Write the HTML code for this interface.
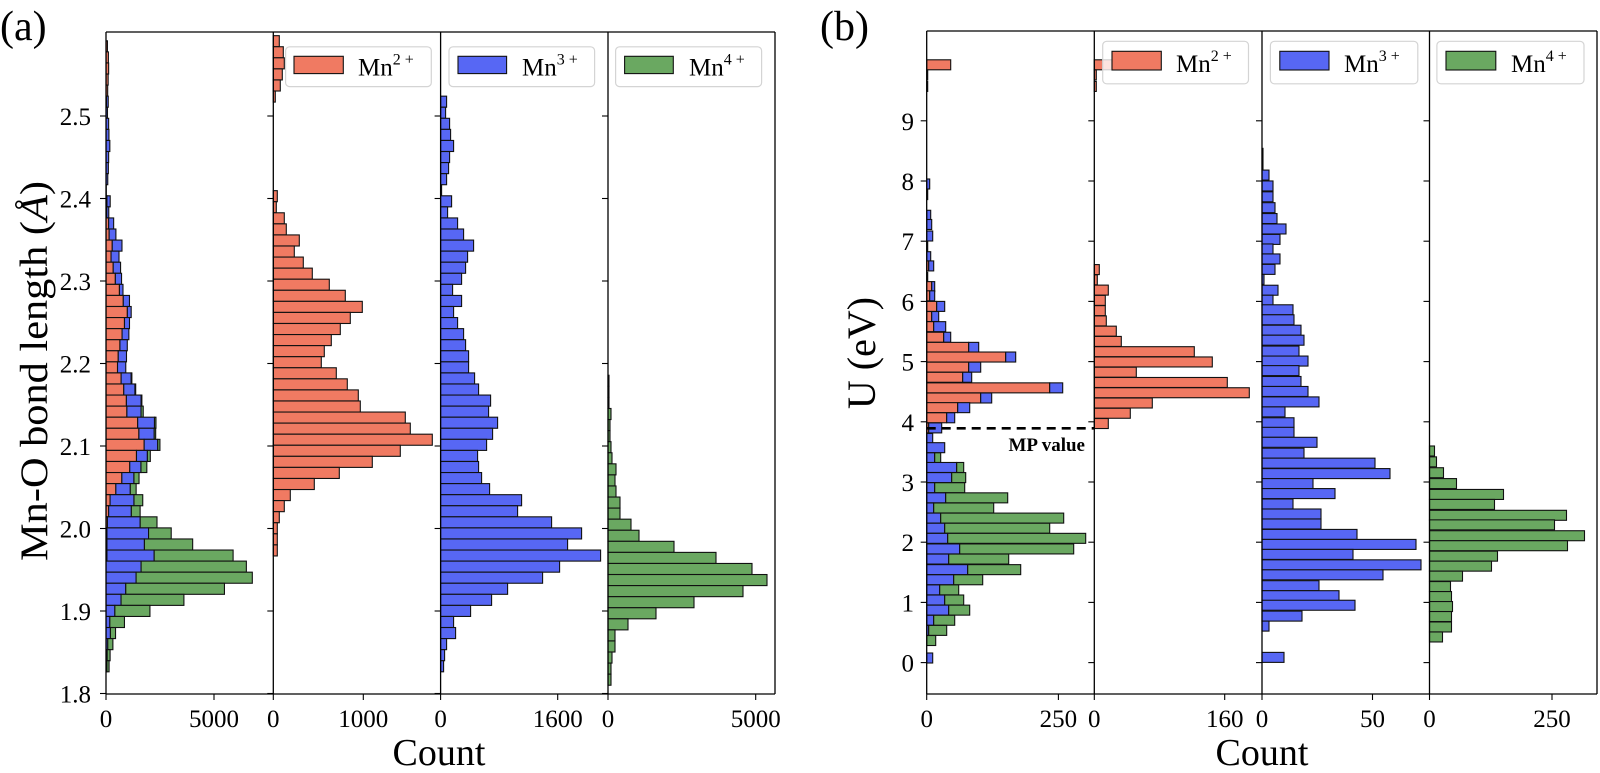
<!DOCTYPE html>
<html><head><meta charset="utf-8"><style>
html,body{margin:0;padding:0;background:#fff;}
svg{display:block;font-family:"Liberation Serif","DejaVu Serif",serif;}
</style></head><body>
<svg id="s" width="1600" height="773" viewBox="0 0 1600 773" xmlns="http://www.w3.org/2000/svg">
<defs>
<clipPath id="ca"><rect x="106" y="32" width="669" height="662"/></clipPath>
<clipPath id="cb"><rect x="926.7" y="31" width="670.3" height="663"/></clipPath>
</defs>
<rect width="1600" height="773" fill="#fff"/>
<g id="barsA" clip-path="url(#ca)"></g>
<g id="barsB" clip-path="url(#cb)"></g>
<g id="axes" fill="none" stroke="#000" stroke-width="1.3"></g>
<g id="legends"></g>
<g font-size="25" fill="#000">
<text x="0" y="40" font-size="42">(a)</text>
<text x="820" y="40" font-size="42">(b)</text>
<text x="439" y="765" font-size="38" text-anchor="middle">Count</text>
<text x="1262" y="765" font-size="38" text-anchor="middle">Count</text>
<text transform="translate(47,371) rotate(-90)" font-size="39" text-anchor="middle" textLength="380" lengthAdjust="spacingAndGlyphs">Mn-O bond length (<tspan font-style="italic">Å</tspan>)</text>
<text transform="translate(875,353) rotate(-90)" font-size="40" text-anchor="middle">U (eV)</text>
<text x="1085" y="451" font-size="19" font-weight="bold" text-anchor="end">MP value</text>
</g>
<g id="ticklabels" font-size="25" fill="#000"></g>
</svg>
<script>
var NS="http://www.w3.org/2000/svg";
function el(parent,tag,attrs){var e=document.createElementNS(NS,tag);for(var k in attrs)e.setAttribute(k,attrs[k]);parent.appendChild(e);return e;}
var RED="#F07A62",BLUE="#5767F4",GREEN="#6AA861";
var gA=document.getElementById('barsA'),gB=document.getElementById('barsB');
function bar(g,x0,cy,w,h,fill){if(w<=0.2)return;el(g,'rect',{x:x0,y:cy-h/2,width:w,height:h,fill:fill,stroke:'#111','stroke-width':1.1});}

var R=[6,10,11,9,7,2,0,0,0,0,0,0,0,0,4,3,11,13,26,21,30,39,56,72,89,77,67,58,51,48,63,74,85,87,132,137,159,127,99,66,41,17,11,6,4,4,4];
var B=[6,5,9,10,13,9,8,6,1,11,7,17,23,33,27,25,21,12,21,13,17,23,25,28,28,34,38,50,48,57,52,46,37,38,41,49,81,77,111,141,127,160,119,102,67,51,30,13,15,6,4,3];
var G=[1,1,1,3,2,2,3,4,8,7,8,12,12,23,31,66,108,144,159,135,86,48,20,7,7,4,3,3];
var hA=11.07;
for(var j=-5;j<=51;j++){
  var r=(R[j+5]||0)*0.24,b=(j>=0?(B[j]||0):0)*0.295,g=(j-25>=0?(G[j-25]||0):0)*0.731;
  var cy=101.7+j*hA;
  bar(gA,106,cy,r,hA,RED);bar(gA,106+r,cy,b,hA,BLUE);bar(gA,106+r+b,cy,g,hA,GREEN);
}
R.forEach(function(v,i){bar(gA,273.3,41.2+i*hA,v,hA,RED);});
B.forEach(function(v,i){bar(gA,440.6,101.7+i*hA,v,hA,BLUE);});
G.forEach(function(v,i){bar(gA,608,380.8+i*hA,v,hA,GREEN);});

function m3(zy){return 662.6-(1442-zy)*0.4602;}
function m5(zy){return 662.6-(1482-zy)*0.4345;}
var hB=10;
var S1=[[143,24,24,24],[165,1,1,1],[190,1,1,1],[402,0,3,3],[425,0,1,1],[470,0,4,4],[490,0,5,5],[515,0,6,6],[537,0,1,1],[560,0,4,4],[580,2,7,7],[605,0,1,1],[625,5,8,8],[645,3,8,8],[668,10,18,18],[690,5,12,12],[712,7,19,19],[735,17,24,24],[757,42,52,52],[778,79,89,89],[800,42,54,54],[822,36,45,45],[845,123,136,136],[867,54,65,65],[888,31,43,43],[910,20,28,28],[932,2,15,15],[955,0,6,6],[975,0,18,18],[997,0,8,14],[1018,0,30,37],[1040,0,25,39],[1062,0,8,38],[1084,0,19,81],[1106,0,7,67],[1128,0,14,137],[1150,0,18,123],[1172,0,21,159],[1195,0,33,147],[1217,0,22,82],[1240,0,41,94],[1262,0,27,56],[1284,0,13,32],[1306,0,18,37],[1328,0,22,43],[1350,0,7,28],[1372,0,2,20],[1394,0,0,9],[1432,0,6,6]];
S1.forEach(function(e){var cy=m3(e[0]),x=926.7;
  bar(gB,x,cy,e[1],hB,RED);bar(gB,x+e[1],cy,e[2]-e[1],hB,BLUE);bar(gB,x+e[2],cy,e[3]-e[2],hB,GREEN);});
bar(gB,1094.3,m3(143),40,hB,RED);bar(gB,1094.3,m3(165),2,hB,RED);bar(gB,1094.3,m3(190),2,hB,RED);
[5,3,14,11,11,12,22,27,100,118,42,133,155,58,36,14].forEach(function(v,i){bar(gB,1094.3,m3(588+i*22.3),v,hB,RED);});
var B3=[[310,1],[335,1],[360,7],[385,11],[410,11],[435,13],[460,15],[484,24],[508,18],[530,11],[553,18],[577,13],[600,2],[625,16],[648,11],[670,31],[693,32],[717,39],[740,42],[765,37],[788,46],[810,37],[835,39],[858,46],[882,57],[905,23],[930,32],[952,32],[975,55],[1000,42],[1023,113],[1047,128],[1070,51],[1093,73],[1117,31],[1140,59],[1163,59],[1187,95],[1210,154],[1233,91],[1257,159],[1280,121],[1305,57],[1328,77],[1350,93],[1375,40],[1398,7],[1470,22]];
B3.forEach(function(e){bar(gB,1262,m5(e[0]),e[1],hB,BLUE);});
var G4=[[995,5],[1020,7],[1045,14],[1070,27],[1095,74],[1118,65],[1143,137],[1165,125],[1190,155],[1213,138],[1237,68],[1260,62],[1283,33],[1307,21],[1330,22],[1353,23],[1376,22],[1400,22],[1423,13]];
G4.forEach(function(e){bar(gB,1429.5,m5(e[0]),e[1],hB,GREEN);});

var ax=document.getElementById('axes'),tl=document.getElementById('ticklabels');
function line(x1,y1,x2,y2,extra){var a={x1:x1,y1:y1,x2:x2,y2:y2};for(var k in extra)a[k]=extra[k];el(ax,'line',a);}
function txt(x,y,s,anchor){var t=el(tl,'text',{x:x,y:y,'text-anchor':anchor});t.textContent=s;}
var xa=[106,273.3,440.6,608,775];
line(106,32,775,32);line(106,694,775,694);
xa.forEach(function(x){line(x,32,x,694);});
var ya=function(v){return 693.5-(v-1.8)*825;};
[1.8,1.9,2.0,2.1,2.2,2.3,2.4,2.5].forEach(function(v){var y=ya(v);
  for(var i=0;i<4;i++)line(xa[i]-6,y,xa[i],y,{'stroke-width':1.1});
  txt(91,y+9,v.toFixed(1),'end');});
var xtA=[[106,'0'],[214,'5000'],[273.3,'0'],[363.3,'1000'],[440.6,'0'],[557.7,'1600'],[608,'0'],[755.7,'5000']];
xtA.forEach(function(t){line(t[0],694,t[0],700,{'stroke-width':1.1});txt(t[0],727,t[1],'middle');});
var xb=[926.7,1094.3,1262,1429.5,1597];
line(926.7,31,1597,31);line(926.7,694,1597,694);
xb.forEach(function(x){line(x,31,x,694);});
for(var u=0;u<=9;u++){var y=662.6-60.2*u;
  for(var i=0;i<4;i++)line(xb[i]-6,y,xb[i],y,{'stroke-width':1.1});
  txt(914,y+9,String(u),'end');}
var xtB=[[926.7,'0'],[1058.4,'250'],[1094.3,'0'],[1224.7,'160'],[1262,'0'],[1372.5,'50'],[1429.5,'0'],[1552,'250']];
xtB.forEach(function(t){line(t[0],694,t[0],700,{'stroke-width':1.1});txt(t[0],727,t[1],'middle');});
line(926.7,428.3,1094.3,428.3,{'stroke-width':2.6,'stroke-dasharray':'9,6'});

var lg=document.getElementById('legends');
function legend(x1,x2,y1,y2,px1,px2,py1,py2,tx,col,sup){
  el(lg,'rect',{x:x1,y:y1,width:x2-x1,height:y2-y1,rx:4,fill:'#fff','fill-opacity':0.8,stroke:'#d4d4d4','stroke-width':1.2});
  el(lg,'rect',{x:px1,y:py1,width:px2-px1,height:py2-py1,fill:col,stroke:'#111','stroke-width':1.1});
  var t=el(lg,'text',{x:tx,y:py2+2,'font-size':25,fill:'#000'});
  t.appendChild(document.createTextNode('Mn'));
  var s=el(t,'tspan',{dy:-11,'font-size':16});s.textContent=sup;
}
legend(285.6,431.3,46.8,86.6,294,343.3,56.3,73.6,358,RED,'2 +');
legend(449,594.6,46.8,86.6,458,506.6,56.3,73.6,522,BLUE,'3 +');
legend(615.6,761.6,46.8,86.6,624.6,673.3,56.3,73.6,689,GREEN,'4 +');
legend(1102.7,1248.5,41.3,83.8,1112,1161.3,51.3,70,1176,RED,'2 +');
legend(1270.4,1417.8,41.3,83.8,1279.8,1329,51.3,70,1344,BLUE,'3 +');
legend(1436.9,1584,41.3,83.8,1446,1495.8,51.3,70,1511,GREEN,'4 +');
</script>
</body></html>
